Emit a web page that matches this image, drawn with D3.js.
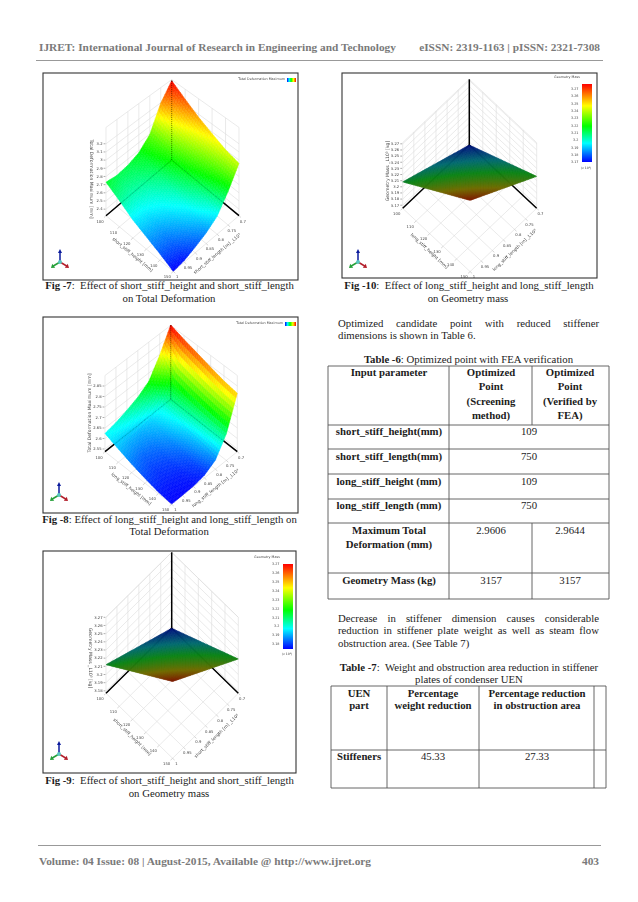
<!DOCTYPE html>
<html>
<head>
<meta charset="utf-8">
<script src="https://cdn.jsdelivr.net/npm/d3@7"></script>
<style>
  html, body { margin: 0; padding: 0; background: #fff; }
  svg { display: block; }
</style>
</head>
<body>
<div id="page"></div>
<script>
// axis ticks of the four response surfaces
const heightTicks = [100, 110, 120, 130, 140, 150];
const lengthTicks = [0.7, 0.75, 0.8, 0.85, 0.9, 0.95, 1];
const heightEnds = [100, 150];
const lengthEnds = [0.7, 1];

// rows = stiffener height, columns = stiffener length
const fig7Values = [
    [3.29, 3.13, 2.86, 2.75, 2.71, 2.70, 2.73],
    [3.20, 3.02, 2.82, 2.70, 2.65, 2.63, 2.64],
    [3.115, 2.94, 2.76, 2.64, 2.58, 2.55, 2.54],
    [3.05, 2.87, 2.70, 2.58, 2.52, 2.48, 2.47],
    [2.99, 2.80, 2.62, 2.52, 2.46, 2.41, 2.40],
    [2.96, 2.73, 2.54, 2.45, 2.39, 2.34, 2.32]
];
const fig8Values = [
    [2.891, 2.789, 2.705, 2.672, 2.651, 2.634, 2.624],
    [2.872, 2.70, 2.63, 2.605, 2.595, 2.595, 2.60],
    [2.856, 2.685, 2.62, 2.59, 2.575, 2.57, 2.578],
    [2.839, 2.675, 2.605, 2.575, 2.56, 2.555, 2.56],
    [2.824, 2.668, 2.595, 2.56, 2.548, 2.545, 2.545],
    [2.815, 2.664, 2.58, 2.55, 2.54, 2.538, 2.537]
];
const fig9Values = [
    [3.177, 3.212],
    [3.219, 3.271]
];
const fig10Values = [
    [3.165, 3.208],
    [3.217, 3.281]
];

const fig7ZTicks = [2.4, 2.5, 2.6, 2.7, 2.8, 2.9, 3, 3.1, 3.2];
const fig8ZTicks = [2.55, 2.6, 2.65, 2.7, 2.75, 2.8, 2.85];
const fig9ZTicks = [3.18, 3.19, 3.2, 3.21, 3.22, 3.23, 3.24, 3.25, 3.26, 3.27];
const fig10ZTicks = [3.17, 3.18, 3.19, 3.2, 3.21, 3.22, 3.23, 3.24, 3.25, 3.26, 3.27];

// table text
const table6Params = ["short_stiff_height(mm)", "short_stiff_length(mm)", "long_stiff_height (mm)", "long_stiff_length (mm)"];
const table6Merged = ["109", "750", "109", "750"];
const table6Deformation = ["2.9606", "2.9644"];
const table6Mass = ["3157", "3157"];
const table7Values = ["45.33", "27.33"];

const brightColors = ["#0000ff", "#00ffff", "#00ff00", "#ffff00", "#ff0000"];
const brightStops = [0, 0.24, 0.46, 0.72, 1];
const darkColors = ["#00107c", "#00686e", "#0a8214", "#6f6a00", "#7c1800"];
const darkStops = [0, 0.22, 0.42, 0.72, 1];

const serif = "'Liberation Serif', serif";
const sans = "'DejaVu Sans', sans-serif";

const svg = d3.select("#page").append("svg")
    .attr("width", 638)
    .attr("height", 902)
    .attr("font-family", serif);

const defs = svg.append("defs");

function addGradient(id, x2, y2) {
    const grad = defs.append("linearGradient").attr("id", id)
        .attr("x1", 0).attr("y1", y2 ? 1 : 0).attr("x2", x2).attr("y2", 0);
    grad.selectAll("stop").data(brightColors).join("stop")
        .attr("offset", (d, i) => brightStops[i])
        .attr("stop-color", d => d);
}
addGradient("legendV", 0, 1);
addGradient("legendH", 1, 0);

function drawFigure(fig) {
    const g = svg.append("g").style("filter", "blur(0.35px)");

    g.append("rect")
        .attr("x", fig.frame[0]).attr("y", fig.frame[1])
        .attr("width", fig.frame[2] - fig.frame[0]).attr("height", fig.frame[3] - fig.frame[1])
        .attr("fill", "#fff").attr("stroke", "#333").attr("stroke-width", 1.1);

    const hFrac = d3.scaleLinear().domain([100, 150]).range([0, 1]);
    const lFrac = d3.scaleLinear().domain([0.7, 1]).range([0, 1]);
    const zPx = d3.scaleLinear().domain(fig.zDomain).range(fig.zRange);

    const floorX = (h, l) => fig.back[0] + hFrac(h) * (fig.right[0] - fig.back[0]) + lFrac(l) * (fig.left[0] - fig.back[0]);
    const floorY = (h, l) => fig.back[1] + hFrac(h) * (fig.right[1] - fig.back[1]) + lFrac(l) * (fig.left[1] - fig.back[1]);

    const line = d3.line();

    // walls
    const wall = g.append("g").attr("stroke", "#dcdcdc").attr("stroke-width", 0.6).attr("fill", "none");
    const wallH = (z, f) => zPx(z) * (fig.taper + (1 - fig.taper) * f);
    lengthTicks.forEach(l => {
        const x = floorX(100, l), y = floorY(100, l);
        wall.append("path").attr("d", line([[x, y], [x, y - wallH(fig.zWallTop, lFrac(l))]]));
    });
    heightTicks.forEach(h => {
        const x = floorX(h, 0.7), y = floorY(h, 0.7);
        wall.append("path").attr("d", line([[x, y], [x, y - wallH(fig.zWallTop, hFrac(h))]]));
    });
    fig.zTicks.concat([fig.zWallTop]).forEach(z => {
        wall.append("path").attr("d", line([
            [floorX(100, 1), floorY(100, 1) - wallH(z, 1)],
            [floorX(100, 0.7), floorY(100, 0.7) - wallH(z, 0)],
            [floorX(150, 0.7), floorY(150, 0.7) - wallH(z, 1)]
        ]));
    });

    // floor
    heightTicks.forEach(h => {
        wall.append("path").attr("d", line([[floorX(h, 0.7), floorY(h, 0.7)], [floorX(h, 1), floorY(h, 1)]]));
    });
    lengthTicks.forEach(l => {
        wall.append("path").attr("d", line([[floorX(100, l), floorY(100, l)], [floorX(150, l), floorY(150, l)]]));
    });

    // thick black axes
    const axes = g.append("g").attr("stroke", "#000").attr("stroke-width", 1.5).attr("fill", "none");
    axes.append("path").attr("d", line([[floorX(100, 1), floorY(100, 1)], [floorX(100, 0.7), floorY(100, 0.7)], [floorX(150, 0.7), floorY(150, 0.7)]]));
    axes.append("path").attr("d", line([[fig.back[0], fig.back[1]], [fig.back[0], fig.back[1] - zPx(fig.zDomain[1])]]));

    // surface, cut up small so the colour runs smoothly
    const color = d3.scaleLinear().domain(fig.stops.map(s => fig.colorDomain[0] + s * (fig.colorDomain[1] - fig.colorDomain[0]))).range(fig.colors).clamp(true);
    const cells = [];
    const n = fig.subdiv;
    const hs = fig.heights, ls = fig.lengths, zs = fig.values;
    for (let i = 0; i < hs.length - 1; i++) {
        for (let j = 0; j < ls.length - 1; j++) {
            const at = (a, b) => {
                const h = hs[i] + (hs[i + 1] - hs[i]) * a;
                const l = ls[j] + (ls[j + 1] - ls[j]) * b;
                const z = (1 - a) * (1 - b) * zs[i][j] + (1 - a) * b * zs[i][j + 1] + a * (1 - b) * zs[i + 1][j] + a * b * zs[i + 1][j + 1];
                return { x: floorX(h, l), y: floorY(h, l) - zPx(z), z };
            };
            for (let a = 0; a < n; a++) {
                for (let b = 0; b < n; b++) {
                    const p = [at(a / n, b / n), at((a + 1) / n, b / n), at((a + 1) / n, (b + 1) / n), at(a / n, (b + 1) / n)];
                    cells.push({
                        d: line(p.map(q => [q.x, q.y])) + "Z",
                        z: d3.mean(p, q => q.z),
                        depth: (hs[i] + (hs[i + 1] - hs[i]) * a / n - 100) / 50 + (ls[j] + (ls[j + 1] - ls[j]) * b / n - 0.7) / 0.3
                    });
                }
            }
        }
    }
    cells.sort((a, b) => a.depth - b.depth);
    g.append("g").selectAll("path").data(cells).join("path")
        .attr("d", d => d.d)
        .attr("fill", d => color(d.z))
        .attr("stroke", d => color(d.z))
        .attr("stroke-width", 0.5);

    // axes seen through the surface
    if (fig.seeThrough) {
        g.append("path")
            .attr("d", line([[floorX(100, 1), floorY(100, 1)], [fig.back[0], fig.back[1]], [floorX(150, 0.7), floorY(150, 0.7)]]))
            .attr("fill", "none").attr("stroke", "#000").attr("stroke-opacity", 0.28)
            .attr("stroke-width", 0.8).attr("stroke-dasharray", "1,1");
        g.append("path")
            .attr("d", line([[fig.back[0], fig.back[1]], [fig.back[0], fig.back[1] - zPx(fig.zDomain[1])]]))
            .attr("fill", "none").attr("stroke", "#000").attr("stroke-opacity", 0.45)
            .attr("stroke-width", 0.9).attr("stroke-dasharray", "1,1");
    }

    // floor edge ticks and labels
    const labels = g.append("g").attr("font-family", sans).attr("fill", "#444");
    const tickMarks = g.append("g").attr("stroke", "#bbb").attr("stroke-width", 0.6);
    heightTicks.forEach(h => {
        const x = floorX(h, 1), y = floorY(h, 1);
        tickMarks.append("line").attr("x1", x).attr("y1", y).attr("x2", x - 2).attr("y2", y + 1.8);
        labels.append("text").attr("x", x - 6).attr("y", y + 5.5).attr("font-size", 3.8)
            .attr("text-anchor", "middle").attr("dy", "0.35em").text(h);
    });
    lengthTicks.forEach(l => {
        const x = floorX(150, l), y = floorY(150, l);
        tickMarks.append("line").attr("x1", x).attr("y1", y).attr("x2", x + 2).attr("y2", y + 1.8);
        labels.append("text").attr("x", x + 3.8).attr("y", y + 5.5).attr("font-size", 3.8)
            .attr("text-anchor", "middle").attr("dy", "0.35em").text(l);
    });

    const mid = (a, b) => [(a[0] + b[0]) / 2, (a[1] + b[1]) / 2];
    const front = [floorX(150, 1), floorY(150, 1)];
    const hMid = mid(fig.left, front);
    const lMid = mid(fig.right, front);
    const hAngle = Math.atan2(front[1] - fig.left[1], front[0] - fig.left[0]) * 180 / Math.PI;
    const lAngle = Math.atan2(fig.right[1] - front[1], fig.right[0] - front[0]) * 180 / Math.PI;
    labels.append("text")
        .attr("transform", `translate(${hMid[0] - 7},${hMid[1] + 11}) rotate(${hAngle})`)
        .attr("font-size", 4.4).attr("text-anchor", "middle").attr("dy", "0.35em")
        .text(fig.hTitle);
    labels.append("text")
        .attr("transform", `translate(${lMid[0] + 11},${lMid[1] + 10}) rotate(${lAngle})`)
        .attr("font-size", 4.4).attr("text-anchor", "middle").attr("dy", "0.35em")
        .text(fig.lTitle);

    // height axis
    fig.zTicks.forEach(z => {
        const x = fig.left[0], y = fig.left[1] - zPx(z);
        tickMarks.append("line").attr("x1", x - 2.4).attr("y1", y).attr("x2", x - 0.6).attr("y2", y).attr("stroke", "#777");
        labels.append("text").attr("x", x - 3.4).attr("y", y).attr("font-size", 3.8)
            .attr("text-anchor", "end").attr("dy", "0.35em").text(z);
    });
    labels.append("text")
        .attr("transform", `translate(${fig.zTitleAt[0]},${fig.zTitleAt[1]}) rotate(${fig.zTitleRotate})`)
        .attr("font-size", 4.6).attr("text-anchor", "middle").attr("dy", "0.35em")
        .text(fig.zTitle);

    // legend
    if (fig.swatch) {
        labels.append("text").attr("x", fig.swatch[0] - 2).attr("y", fig.swatch[1] + 1)
            .attr("font-size", 3.3).attr("text-anchor", "end").attr("dy", "0.35em").text(fig.legendTitle);
        g.append("rect").attr("x", fig.swatch[0]).attr("y", fig.swatch[1])
            .attr("width", fig.swatch[2]).attr("height", fig.swatch[3]).attr("fill", "url(#legendH)");
    } else {
        const lg = fig.legend;
        const legendY = d3.scaleLinear().domain(lg.domain).range(lg.range);
        labels.append("text").attr("x", lg.titleAt[0]).attr("y", lg.titleAt[1])
            .attr("font-size", 3.3).attr("text-anchor", "middle").attr("dy", "0.35em").text(fig.legendTitle);
        g.append("rect").attr("x", lg.x).attr("y", lg.top)
            .attr("width", lg.w).attr("height", lg.bottom - lg.top).attr("fill", "url(#legendV)");
        lg.ticks.forEach(v => {
            labels.append("text").attr("x", lg.x - 3.5).attr("y", legendY(v)).attr("font-size", 3.4)
                .attr("text-anchor", "end").attr("dy", "0.35em").text(v);
        });
        labels.append("text").attr("x", lg.noteAt[0]).attr("y", lg.noteAt[1])
            .attr("font-size", 3.1).attr("text-anchor", "middle").attr("dy", "0.35em").text("(x 10³)");
    }

    // orientation triad
    const triad = g.append("g").attr("transform", `translate(${fig.triad[0]},${fig.triad[1]})`);
    const arms = [
        { c: "#0a1a9c", end: [0, -11], head: "0,-13 -2,-9 2,-9" },
        { c: "#27a03a", end: [-7.5, 4.5], head: "-9,6 -7.8,1.8 -4.8,5.8" },
        { c: "#b3202c", end: [7.5, 4.5], head: "9,6 4.8,5.8 7.8,1.8" }
    ];
    arms.forEach(a => {
        triad.append("line").attr("x1", 0).attr("y1", 0).attr("x2", a.end[0]).attr("y2", a.end[1])
            .attr("stroke", a.c).attr("stroke-width", 1.5);
        triad.append("polygon").attr("points", a.head).attr("fill", a.c);
    });
    triad.append("circle").attr("r", 2).attr("fill", "#58c8c0");
}

const deformColors = { colors: brightColors, stops: brightStops };
const massColors = { colors: darkColors, stops: darkStops };

drawFigure({
    ...deformColors,
    frame: [43, 73, 298, 280],
    back: [171.7, 160], left: [106, 215.7], right: [239, 215.7],
    zDomain: [2.32, 3.29], zRange: [0, 79.3], zWallTop: 3.4, taper: 0.91,
    colorDomain: [2.32, 3.29], zTicks: fig7ZTicks,
    heights: heightTicks, lengths: lengthTicks, values: fig7Values, subdiv: 8, seeThrough: true,
    hTitle: "short_stiff_height [mm]", lTitle: "short_stiff_length [m] _L10³",
    zTitle: "Total Deformation Maximum [mm]", zTitleAt: [92, 179], zTitleRotate: 90,
    legendTitle: "Total Deformation Maximum", swatch: [287, 78, 9, 4],
    triad: [60, 262]
});

drawFigure({
    ...deformColors,
    frame: [43, 317, 298, 513],
    back: [170.7, 399.3], left: [105, 451.7], right: [237.3, 451.7],
    zDomain: [2.537, 2.891], zRange: [0, 74.3], zWallTop: 2.9, taper: 0.97,
    colorDomain: [2.537, 2.891], zTicks: fig8ZTicks,
    heights: heightTicks, lengths: lengthTicks, values: fig8Values, subdiv: 8, seeThrough: true,
    hTitle: "long_stiff_height [mm]", lTitle: "long_stiff_length [m] _L10³",
    zTitle: "Total Deformation Maximum [mm]", zTitleAt: [89, 413], zTitleRotate: -90,
    legendTitle: "Total Deformation Maximum", swatch: [285, 322, 11, 4],
    triad: [59, 495]
});

drawFigure({
    ...massColors,
    frame: [43, 551, 296, 773],
    back: [171.7, 628.3], left: [106, 693.3], right: [238.3, 693.3],
    zDomain: [3.177, 3.27], zRange: [0, 76], zWallTop: 3.27, taper: 1,
    colorDomain: [3.177, 3.271], zTicks: fig9ZTicks,
    heights: heightEnds, lengths: lengthEnds, values: fig9Values, subdiv: 50, seeThrough: false,
    hTitle: "short_stiff_height [mm]", lTitle: "short_stiff_length [m] _L10³",
    zTitle: "Geometry Mass _L10³ [kg]", zTitleAt: [91, 658], zTitleRotate: 90,
    legendTitle: "Geometry Mass",
    legend: {
        x: 283, w: 10, top: 564, bottom: 649, domain: [3.18, 3.27], range: [644, 564],
        ticks: [3.18, 3.19, 3.2, 3.21, 3.22, 3.23, 3.24, 3.25, 3.26, 3.27],
        titleAt: [267, 557], noteAt: [287, 654]
    },
    triad: [59, 754]
});

drawFigure({
    ...massColors,
    frame: [342, 73, 597, 278],
    back: [469.3, 145], left: [402.7, 208.3], right: [536.7, 208.3],
    zDomain: [3.165, 3.272], zRange: [0, 65.7], zWallTop: 3.272, taper: 1,
    colorDomain: [3.165, 3.281], zTicks: fig10ZTicks,
    heights: heightEnds, lengths: lengthEnds, values: fig10Values, subdiv: 50, seeThrough: false,
    hTitle: "long_stiff_height [mm]", lTitle: "long_stiff_length [m] _L10³",
    zTitle: "Geometry Mass _L10³ [kg]", zTitleAt: [387, 171], zTitleRotate: -90,
    legendTitle: "Geometry Mass",
    legend: {
        x: 582, w: 10, top: 84, bottom: 162, domain: [3.17, 3.27], range: [162, 89],
        ticks: [3.17, 3.18, 3.19, 3.2, 3.21, 3.22, 3.23, 3.24, 3.25, 3.26, 3.27],
        titleAt: [567, 77], noteAt: [586, 168]
    },
    triad: [358, 262]
});

// page text
const bodySize = 10.75;

function put(x, y, text, opts = {}) {
    return svg.append("text")
        .attr("x", x).attr("y", y)
        .attr("font-size", opts.size || bodySize)
        .attr("font-weight", opts.bold ? "bold" : "normal")
        .attr("fill", opts.fill || "#1c1c1c")
        .attr("text-anchor", opts.anchor || "middle")
        .text(text);
}

function justified(x0, x1, y, text) {
    const t = put(x0, y, text, { anchor: "start" });
    const gaps = text.split(" ").length - 1;
    t.attr("word-spacing", (x1 - x0 - t.node().getComputedTextLength()) / gaps);
}

function caption(cx, y, label, text) {
    const t = svg.append("text").attr("x", cx).attr("y", y)
        .attr("font-size", bodySize).attr("fill", "#1c1c1c").attr("text-anchor", "middle")
        .attr("xml:space", "preserve");
    t.append("tspan").attr("font-weight", "bold").text(label);
    t.append("tspan").text(text);
}

const gray = "#7a7a7a";
put(39, 51, "IJRET: International Journal of Research in Engineering and Technology", { anchor: "start", bold: true, fill: gray, size: 11.35 });
put(600, 51, "eISSN: 2319-1163 | pISSN: 2321-7308", { anchor: "end", bold: true, fill: gray, size: 11.35 });
svg.append("line").attr("x1", 36).attr("x2", 603).attr("y1", 60.5).attr("y2", 60.5).attr("stroke", "#999");
svg.append("line").attr("x1", 38).attr("x2", 601).attr("y1", 845.5).attr("y2", 845.5).attr("stroke", "#999");
put(39, 865, "Volume: 04 Issue: 08 | August-2015, Available @ http://www.ijret.org", { anchor: "start", bold: true, fill: gray, size: 11.35 });
put(599, 865, "403", { anchor: "end", bold: true, fill: gray, size: 11.35 });

caption(169.5, 289, "Fig -7", ":  Effect of short_stiff_height and short_stiff_length");
caption(169, 302, "", "on Total Deformation");
caption(169.5, 523, "Fig -8", ": Effect of long_stiff_height and long_stiff_length on");
caption(169, 535, "", "Total Deformation");
caption(169.5, 784, "Fig -9", ":  Effect of short_stiff_height and short_stiff_length");
caption(169, 797, "", "on Geometry mass");
caption(469, 289, "Fig -10", ":  Effect of long_stiff_height and long_stiff_length");
caption(468, 302, "", "on Geometry mass");

justified(338, 599, 327, "Optimized candidate point with reduced stiffener");
put(338, 339, "dimensions is shown in Table 6.", { anchor: "start" });
caption(468.5, 363, "Table -6", ": Optimized point with FEA verification");

justified(338, 599, 622, "Decrease in stiffener dimension causes considerable");
justified(338, 599, 634, "reduction in stiffener plate weight as well as steam flow");
put(338, 647, "obstruction area. (See Table 7)", { anchor: "start" });
caption(469, 671, "Table -7", ":  Weight and obstruction area reduction in stiffener");
put(469, 683, "plates of condenser UEN");

// tables
function rule(x1, y1, x2, y2) {
    svg.append("line").attr("x1", x1).attr("y1", y1).attr("x2", x2).attr("y2", y2)
        .attr("stroke", "#555").attr("stroke-width", 0.9);
}

[366, 425, 449, 474, 499, 523, 573, 599].forEach(y => rule(328, y, 609, y));
rule(328, 366, 328, 599);
rule(449, 366, 449, 599);
rule(609, 366, 609, 599);
rule(532, 366, 532, 425);
rule(532, 523, 532, 599);

put(389, 376, "Input parameter", { bold: true });
["Optimized", "Point", "(Screening", "method)"].forEach((s, i) => put(491, [376, 390, 405, 419][i], s, { bold: true }));
["Optimized", "Point", "(Verified by", "FEA)"].forEach((s, i) => put(570, [376, 390, 405, 419][i], s, { bold: true }));
const table6RowY = [435, 460, 485, 509];
table6Params.forEach((s, i) => {
    put(389, table6RowY[i], s, { bold: true });
    put(529, table6RowY[i], table6Merged[i]);
});
put(389, 534, "Maximum Total", { bold: true });
put(389, 548, "Deformation (mm)", { bold: true });
put(491, 534, table6Deformation[0]);
put(570, 534, table6Deformation[1]);
put(389, 584, "Geometry Mass (kg)", { bold: true });
put(491, 584, table6Mass[0]);
put(570, 584, table6Mass[1]);

[686, 750, 788].forEach(y => rule(331, y, 606, y));
[331, 387, 479, 594, 606].forEach(x => rule(x, 686, x, 788));
put(359, 697, "UEN", { bold: true });
put(359, 709, "part", { bold: true });
put(433, 697, "Percentage", { bold: true });
put(433, 709, "weight reduction", { bold: true });
put(537, 697, "Percentage reduction", { bold: true });
put(537, 709, "in obstruction area", { bold: true });
put(359, 760, "Stiffeners", { bold: true });
put(433, 760, table7Values[0]);
put(537, 760, table7Values[1]);
</script>
</body>
</html>
